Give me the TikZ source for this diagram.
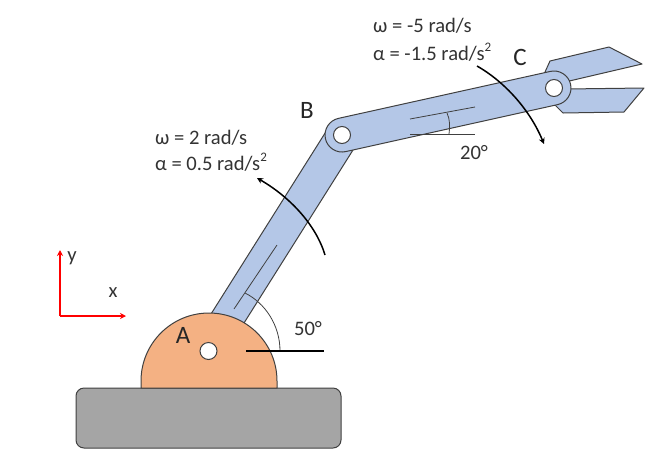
\documentclass[tikz,border=0pt]{standalone}
\usepackage{fontspec}
\setmainfont{Carlito}
\usetikzlibrary{arrows.meta}
\definecolor{linkblue}{HTML}{B4C7E7}
\definecolor{hubor}{HTML}{F4B183}
\definecolor{basegray}{HTML}{A5A5A5}
\definecolor{edge}{HTML}{404040}
\newcommand{\sqmark}{\raisebox{0.42em}{\fontsize{13}{13}\selectfont 2}}
\tikzset{
  part/.style={draw=edge,line width=1pt,line join=round},
  pinhole/.style={circle,draw=edge,line width=1pt,fill=white,minimum size=17pt,inner sep=0pt},
  lbl/.style={font=\fontsize{20.6}{24}\selectfont,text=black!80,inner sep=0pt},
  biglbl/.style={font=\fontsize{25}{28}\selectfont,text=black!85,inner sep=0pt},
  thinref/.style={draw=edge,line width=0.8pt},
  motion/.style={draw=black,line width=1.5pt,-{Stealth[length=6pt,width=6pt]}},
  axis/.style={draw=red,line width=2.2pt,-{Stealth[length=6pt,width=6pt]}}
}
\begin{document}
\begin{tikzpicture}[x=1pt,y=-1pt]
\useasboundingbox (0,0) rectangle (653,456);
% base
\draw[part,fill=basegray,rounded corners=8pt] (76,388) rectangle (341,448);
% lower link
\draw[part,fill=linkblue] (211,314) -- (327,130) -- (353,150) -- (244,323) -- cycle;
% hub
\draw[part,fill=hubor] (141,388) -- (141,381) arc[start angle=180,end angle=360,x radius=68,y radius=68] -- (277,388) -- cycle;
% gripper
\draw[part,fill=linkblue] (545,72) -- (550,61) -- (609,47) -- (642,64) -- (565,82) -- cycle;
\draw[part,fill=linkblue] (566,89) -- (644,88) -- (624,112) -- (563,113) -- (553,103) -- cycle;
% upper link
\coordinate (pB) at (342,135);
\coordinate (pC) at (554,88);
\draw[part,fill=linkblue] (338.3,118.4) -- (550.3,71.4) arc[start angle=-102.5,end angle=77.5,radius=17] -- (345.7,151.6) arc[start angle=77.5,end angle=257.5,radius=17] -- cycle;
\node[pinhole] (holeB) at (pB) {};
\node[pinhole] (holeC) at (pC) {};
\node[pinhole] (holeA) at (208.5,351) {};
% reference lines
\draw[thinref] (410,119) -- (475,107);
\draw[thinref] (410,134) -- (475,134);
\draw[thinref] (447,113) .. controls (450,119) and (450,127) .. (449,134);
\draw[thinref] (277,245) -- (234,309);
\draw[thinref] (245,293) .. controls (265,303) and (280,325) .. (280,351);
\draw[draw=black,line width=1.6pt] (246,351) -- (324,351);
% motion arrows
\draw[motion] (477,66) .. controls (505,82) and (530,110) .. (544,144);
\draw[motion] (325,255) .. controls (316,225) and (290,197) .. (257,178);
% axes
\coordinate (O) at (60,316);
\draw[axis] (O) -- (60,250);
\draw[axis] (O) -- (126,316);
% labels
\node[lbl] (lx) at (113,293) {x};
\node[lbl] (ly) at (72,258) {y};
\node[biglbl] (lA) at (183,335) {A};
\node[biglbl] (lB) at (307,110) {B};
\node[biglbl] (lC) at (520,57) {C};
\node[lbl] (a50) at (308,329) {50°};
\node[lbl] (a20) at (474,153) {20°};
\node[lbl,anchor=west] (w1) at (155,138) {ω = 2 rad/s};
\node[lbl,anchor=west] (al1) at (155,162) {α = 0.5 rad/s\sqmark};
\node[lbl,anchor=west] (w2) at (373,26) {ω = -5 rad/s};
\node[lbl,anchor=west] (al2) at (373,52) {α = -1.5 rad/s\sqmark};
\end{tikzpicture}
\end{document}
